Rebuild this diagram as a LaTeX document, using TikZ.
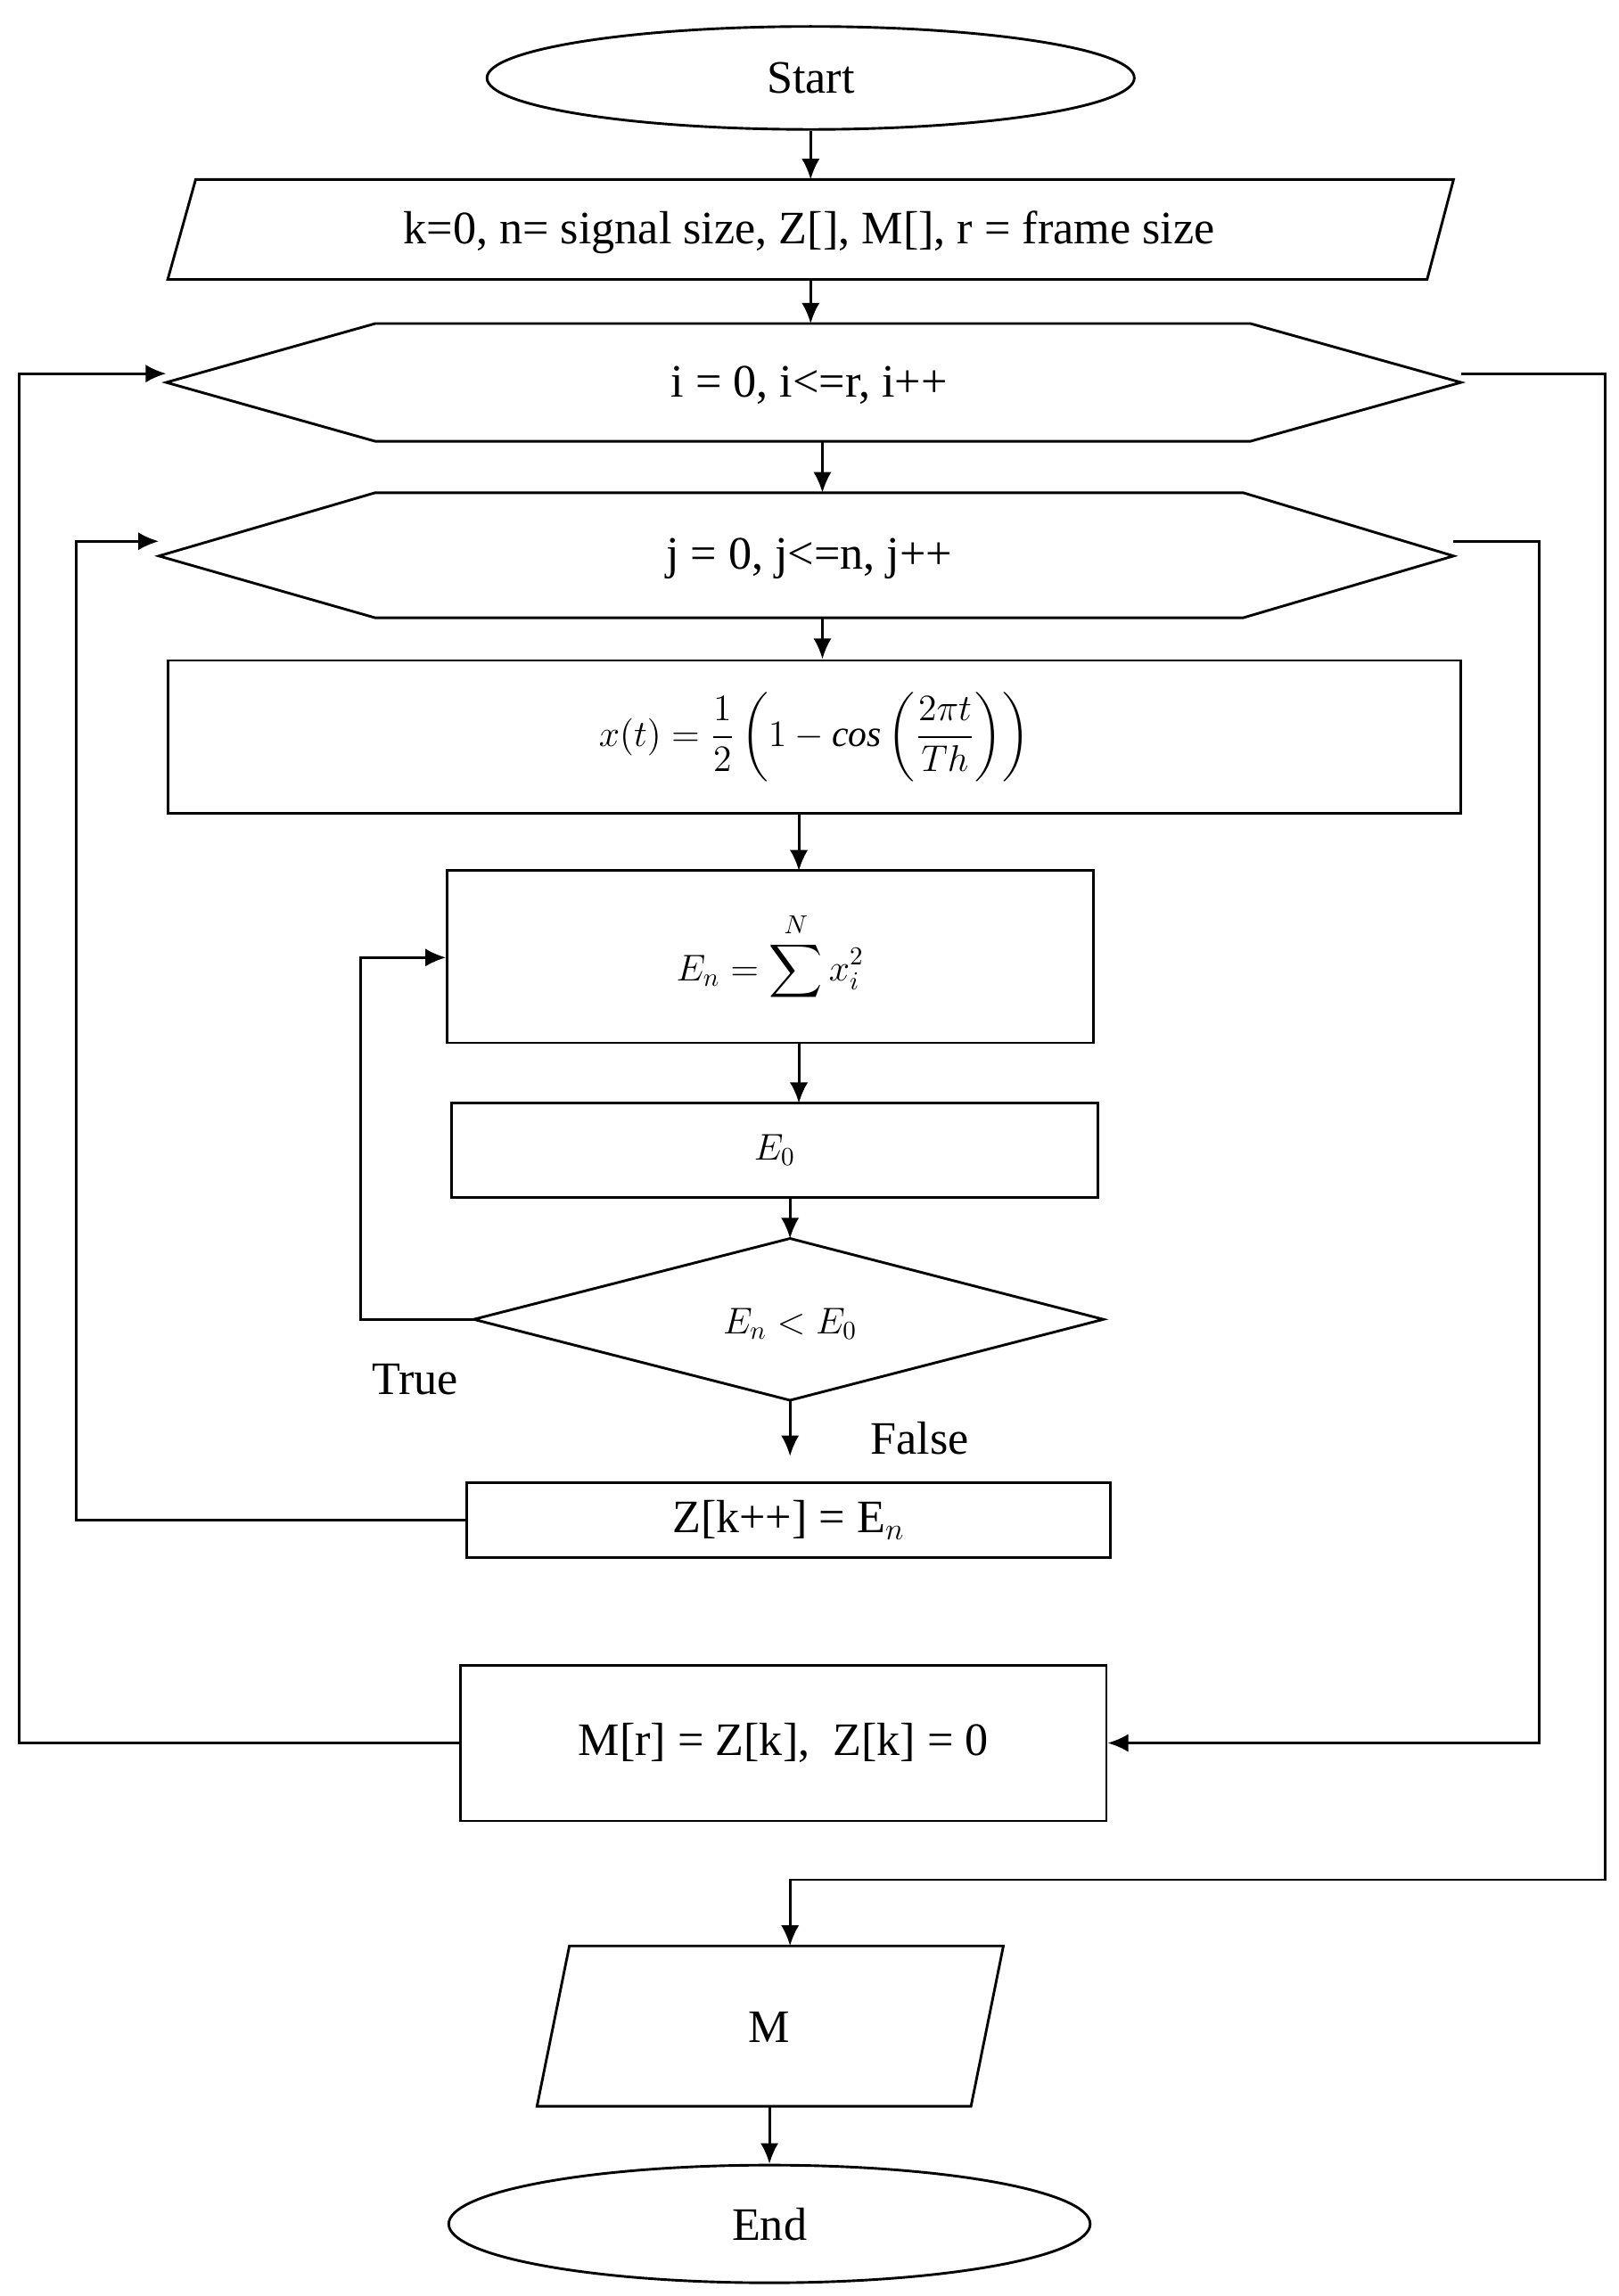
\documentclass[tikz,border=0pt]{standalone}
\usepackage{amsmath}
\usepackage{fontspec}
\setmainfont{Liberation Serif}
\usetikzlibrary{shapes.geometric,arrows.meta}
\begin{document}
\begin{tikzpicture}[x=0.02cm,y=-0.02cm,
  every node/.style={font=\fontsize{18}{21}\selectfont},
  box/.style={draw,line width=1pt,rectangle,inner sep=0pt},
  oval/.style={draw,line width=1pt,ellipse,inner sep=0pt},
  ln/.style={line width=1pt},
  ar/.style={line width=1pt,-{Latex[length=8pt,width=7pt]}}]
\useasboundingbox (0,0) rectangle (1100,1561);
% Start
\node[oval,minimum width=440*0.02cm,minimum height=70*0.02cm] (start) at (551,53) {Start};
% input parallelogram
\draw[ln] (133,122) -- (988,122) -- (970,190) -- (114,190) -- cycle;
\node (inp) at (550,158) {k=0, n= signal size, Z[], M[], r = frame size};
\coordinate (inpT) at (551,122); \coordinate (inpB) at (551,190);
% hex 1
\draw[ln] (113,260) -- (255,220) -- (850,220) -- (993,260) -- (850,300) -- (255,300) -- cycle;
\node (h1) at (550,262) {i = 0, i<=r, i++};
\coordinate (h1T) at (551,220); \coordinate (h1B) at (559,300);
\coordinate (h1L) at (113,254); \coordinate (h1R) at (993,254);
% hex 2
\draw[ln] (108,378) -- (255,335) -- (845,335) -- (988,378) -- (845,420) -- (255,420) -- cycle;
\node (h2) at (550,380) {j = 0, j<=n, j++};
\coordinate (h2T) at (559,335); \coordinate (h2B) at (559,420);
\coordinate (h2L) at (108,368); \coordinate (h2R) at (988,368);
% x(t)
\node[box,minimum width=879*0.02cm,minimum height=104*0.02cm] (xt) at (553.5,501) {\Large $x(t) = \dfrac{1}{2}\left(1-\mathit{cos}\left(\dfrac{2\pi t}{Th}\right)\right)$};
% En
\node[box,minimum width=439*0.02cm,minimum height=117*0.02cm] (en) at (523.5,650.5) {\Large $E_n = \displaystyle\sum^{N} x_i^2$};
% E0
\node[box,minimum width=439*0.02cm,minimum height=64*0.02cm] (e0) at (526.5,782) {\Large $E_0$};
% diamond
\draw[ln] (322,897) -- (537,842) -- (750,897) -- (537,952) -- cycle;
\node (dia) at (537,900) {\Large $E_n < E_0$};
\coordinate (dT) at (537,842); \coordinate (dB) at (537,952); \coordinate (dL) at (322,897);
\coordinate (dEnd) at (537,990);
\node (true) at (282,938) {True};
\node (false) at (625,978) {False};
% Z
\node[box,minimum width=438*0.02cm,minimum height=51*0.02cm] (z) at (536,1033.5) {Z[k++] = E$_n$};
% M[r]
\node[box,minimum width=439*0.02cm,minimum height=106*0.02cm] (mr) at (532.5,1185) {M[r] = Z[k],\ \ Z[k] = 0};
% output M
\draw[ln] (387,1323) -- (682,1323) -- (660,1432) -- (365,1432) -- cycle;
\node (m) at (523,1378) {M};
\coordinate (mT) at (537,1323); \coordinate (mB) at (523,1432);
% End
\node[oval,minimum width=436*0.02cm,minimum height=80*0.02cm] (end) at (523,1512) {End};
% connectors
\draw[ar] (start.south) -- (inpT);
\draw[ar] (inpB) -- (h1T);
\draw[ar] (h1B) -- (h2T);
\draw[ar] (h2B) -- (h2B |- xt.north);
\draw[ar] (543,553) -- (543,592);
\draw[ar] (543,709) -- (543,750);
\draw[ar] (537,814) -- (dT);
\draw[ar] (dL) -- (245,897) -- (245,651) -- (en.west |- 0,651);
\draw[ar] (dB) -- (dEnd);
\draw[ar] (z.west) -- (52,1033.5) -- (52,368) -- (h2L);
\draw[ar] (h2R) -- (1046,368) -- (1046,1185) -- (mr.east);
\draw[ar] (mr.west) -- (13,1185) -- (13,254) -- (h1L);
\draw[ar] (h1R) -- (1091,254) -- (1091,1278) -- (537,1278) -- (mT);
\draw[ar] (mB) -- (end.north);
\end{tikzpicture}
\end{document}
